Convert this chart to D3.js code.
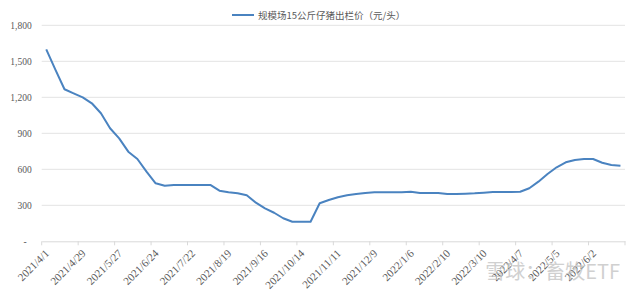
<!DOCTYPE html>
<html>
<head>
<meta charset="utf-8">
<script src="https://cdn.jsdelivr.net/npm/d3@7"></script>
<style>
  body { margin: 0; background: #fff; }
  svg { display: block; }
</style>
</head>
<body>
<div id="chart"></div>
<script>
// data
var dates = [
  "2021/4/1","2021/4/8","2021/4/15","2021/4/22","2021/4/29","2021/5/6","2021/5/13","2021/5/20",
  "2021/5/27","2021/6/3","2021/6/10","2021/6/17","2021/6/24","2021/7/1","2021/7/8","2021/7/15",
  "2021/7/22","2021/7/29","2021/8/5","2021/8/12","2021/8/19","2021/8/26","2021/9/2","2021/9/9",
  "2021/9/16","2021/9/23","2021/9/30","2021/10/7","2021/10/14","2021/10/21","2021/10/28","2021/11/4",
  "2021/11/11","2021/11/18","2021/11/25","2021/12/2","2021/12/9","2021/12/16","2021/12/23","2021/12/30",
  "2022/1/6","2022/1/13","2022/1/20","2022/1/27","2022/2/10","2022/2/17","2022/2/24","2022/3/3",
  "2022/3/10","2022/3/17","2022/3/24","2022/3/31","2022/4/7","2022/4/14","2022/4/21","2022/4/28",
  "2022/5/5","2022/5/12","2022/5/19","2022/5/26","2022/6/2","2022/6/9","2022/6/16","2022/6/23"
];

var prices = [
  1600, 1430, 1267, 1233, 1200, 1150, 1067, 942,
  858, 747, 686, 580, 483, 463, 470, 470,
  470, 470, 470, 422, 408, 400, 383, 322,
  275, 238, 192, 163, 163, 163, 317, 344,
  367, 383, 394, 403, 408, 408, 408, 408,
  413, 403, 403, 403, 394, 394, 397, 400,
  405, 411, 411, 411, 413, 442, 497, 561,
  617, 658, 678, 686, 686, 655, 636, 630
];

var yTicks = [0, 300, 600, 900, 1200, 1500, 1800];
var seriesName = "规模场15公斤仔猪出栏价（元/头）";

// layout
var width = 640,
    height = 294,
    plotLeft = 41.7,
    plotRight = 625,
    plotTop = 25.3,
    plotBottom = 241.3;

var x = d3.scaleBand().domain(dates).range([plotLeft, plotRight]),
    y = d3.scaleLinear().domain([0, 1800]).range([plotBottom, plotTop]);

var bw = x.bandwidth();

var svg = d3.select("#chart").append("svg")
  .attr("width", width)
  .attr("height", height);

// gridlines
svg.append("g")
  .selectAll("line")
  .data(yTicks.slice(1))
  .enter().append("line")
  .attr("x1", plotLeft)
  .attr("x2", plotRight)
  .attr("y1", function(d) { return y(d); })
  .attr("y2", function(d) { return y(d); })
  .attr("stroke", "#e3e3e3")
  .attr("stroke-width", 1);

// y axis labels
var yAxis = svg.append("g")
  .attr("transform", "translate(" + (plotLeft - 10) + ",0)")
  .call(d3.axisLeft(y)
    .tickValues(yTicks)
    .tickSize(0)
    .tickPadding(0)
    .tickFormat(function(d) { return d === 0 ? "-" : d3.format(",")(d); }));

yAxis.select(".domain").remove();
yAxis.selectAll("text")
  .attr("font-family", "'Liberation Serif', serif")
  .attr("font-size", 9.5)
  .attr("fill", "#595959")
  .attr("dx", function(d) { return d === 0 ? -5 : 0; });

// x axis
var labelDates = dates.filter(function(d, i) { return i % 4 === 0; });

var xAxis = svg.append("g")
  .attr("transform", "translate(0," + plotBottom + ")")
  .call(d3.axisBottom(x)
    .tickValues(labelDates)
    .tickSize(4)
    .tickSizeOuter(0));

xAxis.select(".domain")
  .attr("stroke", "#d9d9d9");

xAxis.selectAll(".tick line")
  .attr("stroke", "#d9d9d9")
  .attr("x1", -bw / 2)
  .attr("x2", -bw / 2);

xAxis.selectAll(".tick text")
  .attr("font-family", "'Liberation Serif', serif")
  .attr("font-size", 11)
  .attr("fill", "#595959")
  .attr("text-anchor", "end")
  .attr("transform", "translate(1,10) rotate(-45)")
  .attr("dy", "0.35em")
  .attr("y", 0)
  .attr("x", 0);

// closing tick at right end
xAxis.append("line")
  .attr("x1", plotRight)
  .attr("x2", plotRight)
  .attr("y1", 0)
  .attr("y2", 4)
  .attr("stroke", "#d9d9d9");

// line
var line = d3.line()
  .x(function(d, i) { return x(dates[i]) + bw / 2; })
  .y(function(d) { return y(d); });

svg.append("path")
  .datum(prices)
  .attr("d", line)
  .attr("fill", "none")
  .attr("stroke", "#4a83c0")
  .attr("stroke-width", 2)
  .attr("stroke-linejoin", "round");

// legend
var legend = svg.append("g")
  .attr("transform", "translate(232,15)");

legend.append("line")
  .attr("x1", 0)
  .attr("x2", 22)
  .attr("stroke", "#4a83c0")
  .attr("stroke-width", 2);

legend.append("text")
  .attr("x", 26)
  .attr("y", 3.5)
  .attr("font-family", "'Noto Sans CJK SC', sans-serif")
  .attr("font-size", 9.5)
  .attr("fill", "#595959")
  .text(seriesName);

// watermark
svg.append("text")
  .attr("x", 620)
  .attr("y", 279)
  .attr("text-anchor", "end")
  .attr("font-family", "'Noto Sans CJK SC', sans-serif")
  .attr("font-size", 20)
  .attr("fill", "#bdbdbd")
  .attr("opacity", 0.7)
  .text("雪球：畜牧ETF");
</script>
</body>
</html>
